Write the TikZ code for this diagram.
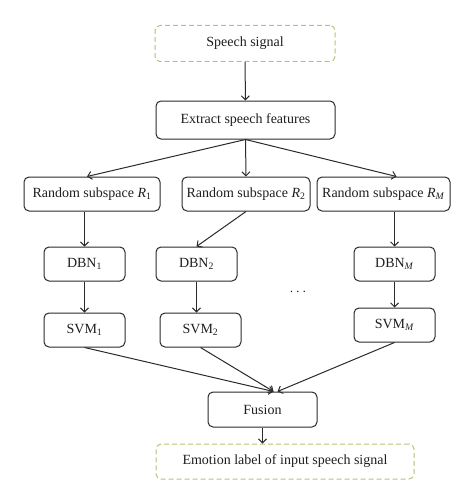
\documentclass[tikz,border=0pt]{standalone}
\usepackage{fontspec}
\setmainfont{Liberation Serif}
\usetikzlibrary{arrows.meta, positioning, calc}
\definecolor{boxline}{HTML}{2A2A2A}
\definecolor{ioline}{HTML}{B9C172}
\definecolor{textdark}{HTML}{1E1E1E}
\newcommand{\idx}[2]{#1\textsubscript{#2}}

\begin{document}
\begin{tikzpicture}[
    x=1pt, y=-1pt,
    % ── Node styles ──────────────────────────────────────────────────────
    base/.style={
        draw=boxline, rounded corners=5pt, line width=1pt,
        font=\fontsize{14}{16}\selectfont, text=textdark,
        align=center, inner sep=0pt
    },
    ionode/.style={
        base, draw=ioline, dashed, dash pattern=on 5pt off 3pt,
        minimum height=36pt
    },
    stepnode/.style={base, minimum height=35pt},
    subnode/.style={base, minimum height=34pt},
    learnnode/.style={base, minimum width=81pt, minimum height=34pt},
    % ── Arrow style ──────────────────────────────────────────────────────
    arr/.style={
        -{Straight Barb[length=4pt, width=8pt]},
        line width=1pt, color=boxline
    }
]
\useasboundingbox (0,0) rectangle (474,503);

% ═══════════════════════════════════════════════════════════════════════════
% Input and feature extraction
% ═══════════════════════════════════════════════════════════════════════════
\node[ionode, minimum width=180pt] (speech) at (245,43.5) {Speech signal};
\node[stepnode, minimum width=179pt, minimum height=38pt] (extract) at (245.5,120)
    {Extract speech features};

\draw[arr] (speech) -- (extract);

% ═══════════════════════════════════════════════════════════════════════════
% Random subspaces
% ═══════════════════════════════════════════════════════════════════════════
\node[subnode, minimum width=136pt] (sub1) at (92,194)
    {Random subspace \idx{\textit{R}}{1}};
\node[subnode, minimum width=128pt] (sub2) at (246,194)
    {Random subspace \idx{\textit{R}}{2}};
\node[subnode, minimum width=133pt] (subm) at (383.5,194)
    {Random subspace \idx{\textit{R}}{\textit{M}}};

\draw[arr] (extract.south) -- ($(sub1.north)+(-5,0)$);
\draw[arr] (extract.south) -- (sub2.north);
\draw[arr] (extract.south) -- ($(subm.north)+(13,0)$);

% ═══════════════════════════════════════════════════════════════════════════
% DBN and SVM branches
% ═══════════════════════════════════════════════════════════════════════════
\node[learnnode] (dbn1) at (84.5,264) {\idx{DBN}{1}};
\node[learnnode] (dbn2) at (196.5,264) {\idx{DBN}{2}};
\node[learnnode] (dbnm) at (394.5,264) {\idx{DBN}{\textit{M}}};

\node[learnnode] (svm1) at (84.5,330) {\idx{SVM}{1}};
\node[learnnode] (svm2) at (200.5,330) {\idx{SVM}{2}};
\node[learnnode] (svmm) at (394.5,325) {\idx{SVM}{\textit{M}}};

\node[font=\fontsize{14}{16}\selectfont, text=textdark] (dots) at (298,292) {$\cdots$};

\draw[arr] (sub1.south -| dbn1) -- (dbn1.north);
\draw[arr] (sub2.south) -- (dbn2.north);
\draw[arr] (subm.south -| dbnm) -- (dbnm.north);

\draw[arr] (dbn1.south) -- (svm1.north);
\draw[arr] (dbn2.south) -- (dbn2.south |- svm2.north);
\draw[arr] (dbnm.south) -- (svmm.north);

% ═══════════════════════════════════════════════════════════════════════════
% Fusion and output
% ═══════════════════════════════════════════════════════════════════════════
\node[stepnode, minimum width=109pt] (fusion) at (262.5,409.5) {Fusion};
\node[ionode, minimum width=258pt, minimum height=35pt] (emotion) at (285,461.5)
    {Emotion label of input speech signal};

\coordinate (fusionin) at ($(fusion.north)+(11,0)$);
\draw[arr] (svm1.south) -- (fusionin);
\draw[arr] (svm2.south) -- (fusionin);
\draw[arr] (svmm.south) -- ($(fusionin)+(4,0)$);

\draw[arr] (fusion.south) -- (fusion.south |- emotion.north);

\end{tikzpicture}
\end{document}
